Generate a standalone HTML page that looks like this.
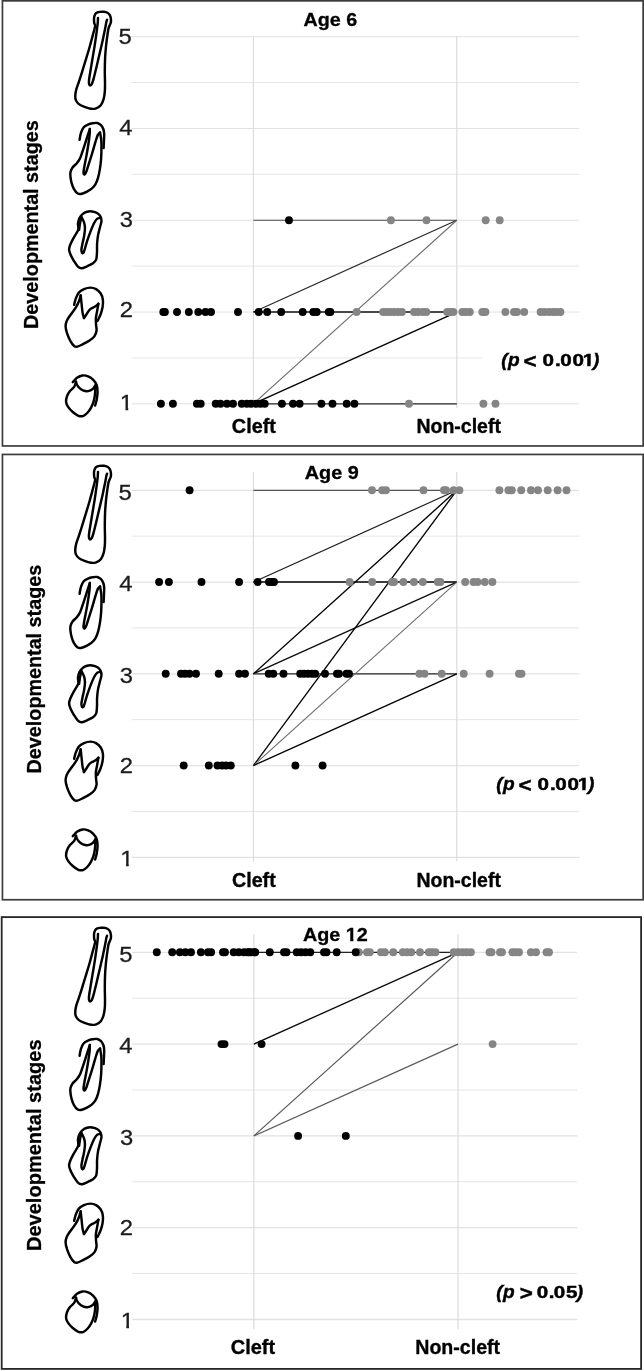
<!DOCTYPE html>
<html lang="en">
<head>
<meta charset="utf-8">
<title>Developmental stages by age: Cleft vs Non-cleft</title>
<style>
html,body{margin:0;padding:0;background:#fff;}
body{width:644px;height:1371px;overflow:hidden;}
svg{display:block;}
</style>
</head>
<body>
<svg width="644" height="1371" viewBox="0 0 644 1371" font-family="'Liberation Sans', Arial, Helvetica, sans-serif">
<rect x="0" y="0" width="644" height="1371" fill="#fff"/>
<defs>
<clipPath id="c1t"><rect x="0" y="-22.9" width="16.03" height="20.84"/><rect x="5.47" y="-4.58" width="2.56" height="6.87"/></clipPath>
</defs>
<g>
<rect x="2.45" y="0.85" width="640.7" height="445.1" fill="#fff" stroke="#3c3c3c" stroke-width="1.7"/>
<path d="M131.6 403.82H579.3M131.6 312.04H579.3M131.6 220.26H579.3M131.6 128.48H579.3M131.6 36.7H579.3" stroke="#e2e2e2" stroke-width="1" fill="none"/>
<path d="M131.6 357.93H579.3M131.6 266.15H579.3M131.6 174.37H579.3M131.6 82.59H579.3" stroke="#e2e2e2" stroke-width="0.9" fill="none"/>
<path d="M253.45 36.1V408.2M456.8 36.1V408.2" stroke="#dbdbdb" stroke-width="1.15" fill="none"/>
<rect x="482" y="340" width="110" height="36" fill="#fff"/>
<line x1="253.45" y1="220.26" x2="456.8" y2="220.26" stroke="#4a4a4a" stroke-width="1.1"/>
<line x1="253.45" y1="312.04" x2="456.8" y2="220.26" stroke="#2a2a2a" stroke-width="1.2"/>
<line x1="253.45" y1="312.04" x2="456.8" y2="312.04" stroke="#111" stroke-width="1.4"/>
<line x1="253.45" y1="403.82" x2="456.8" y2="220.26" stroke="#6e6e6e" stroke-width="1.15"/>
<line x1="253.45" y1="403.82" x2="456.8" y2="312.04" stroke="#000" stroke-width="1.35"/>
<line x1="253.45" y1="403.82" x2="456.8" y2="403.82" stroke="#262626" stroke-width="1.25"/>
<g fill="#858585"><circle cx="390.9" cy="220.26" r="3.95"/><circle cx="426.5" cy="220.26" r="3.95"/><circle cx="485.7" cy="220.26" r="3.95"/><circle cx="499.7" cy="220.26" r="3.95"/><circle cx="356.6" cy="312.04" r="3.95"/><circle cx="383.2" cy="312.04" r="3.95"/><circle cx="386.5" cy="312.04" r="3.95"/><circle cx="390" cy="312.04" r="3.95"/><circle cx="394" cy="312.04" r="3.95"/><circle cx="398" cy="312.04" r="3.95"/><circle cx="401.9" cy="312.04" r="3.95"/><circle cx="414" cy="312.04" r="3.95"/><circle cx="418" cy="312.04" r="3.95"/><circle cx="422.5" cy="312.04" r="3.95"/><circle cx="426.3" cy="312.04" r="3.95"/><circle cx="447.2" cy="312.04" r="3.95"/><circle cx="450" cy="312.04" r="3.95"/><circle cx="453.3" cy="312.04" r="3.95"/><circle cx="462.4" cy="312.04" r="3.95"/><circle cx="466" cy="312.04" r="3.95"/><circle cx="469.8" cy="312.04" r="3.95"/><circle cx="482.4" cy="312.04" r="3.95"/><circle cx="485.4" cy="312.04" r="3.95"/><circle cx="505.4" cy="312.04" r="3.95"/><circle cx="514" cy="312.04" r="3.95"/><circle cx="517" cy="312.04" r="3.95"/><circle cx="524.2" cy="312.04" r="3.95"/><circle cx="540.6" cy="312.04" r="3.95"/><circle cx="544.5" cy="312.04" r="3.95"/><circle cx="549" cy="312.04" r="3.95"/><circle cx="553" cy="312.04" r="3.95"/><circle cx="556.5" cy="312.04" r="3.95"/><circle cx="560.4" cy="312.04" r="3.95"/><circle cx="409" cy="403.82" r="3.95"/><circle cx="483.4" cy="403.82" r="3.95"/><circle cx="495.5" cy="403.82" r="3.95"/></g>
<g fill="#000"><circle cx="289" cy="220.26" r="3.95"/><circle cx="163.3" cy="312.04" r="3.95"/><circle cx="164.9" cy="312.04" r="3.95"/><circle cx="177" cy="312.04" r="3.95"/><circle cx="188.8" cy="312.04" r="3.95"/><circle cx="198.3" cy="312.04" r="3.95"/><circle cx="205.5" cy="312.04" r="3.95"/><circle cx="211" cy="312.04" r="3.95"/><circle cx="238" cy="312.04" r="3.95"/><circle cx="258.7" cy="312.04" r="3.95"/><circle cx="267.2" cy="312.04" r="3.95"/><circle cx="281.2" cy="312.04" r="3.95"/><circle cx="302.7" cy="312.04" r="3.95"/><circle cx="313.3" cy="312.04" r="3.95"/><circle cx="316.7" cy="312.04" r="3.95"/><circle cx="328.8" cy="312.04" r="3.95"/><circle cx="330.3" cy="312.04" r="3.95"/><circle cx="160.9" cy="403.82" r="3.95"/><circle cx="172.9" cy="403.82" r="3.95"/><circle cx="196.9" cy="403.82" r="3.95"/><circle cx="200.7" cy="403.82" r="3.95"/><circle cx="215.7" cy="403.82" r="3.95"/><circle cx="220.5" cy="403.82" r="3.95"/><circle cx="227" cy="403.82" r="3.95"/><circle cx="233" cy="403.82" r="3.95"/><circle cx="241.7" cy="403.82" r="3.95"/><circle cx="246.7" cy="403.82" r="3.95"/><circle cx="251" cy="403.82" r="3.95"/><circle cx="256" cy="403.82" r="3.95"/><circle cx="260.4" cy="403.82" r="3.95"/><circle cx="264.7" cy="403.82" r="3.95"/><circle cx="281.9" cy="403.82" r="3.95"/><circle cx="293" cy="403.82" r="3.95"/><circle cx="299.6" cy="403.82" r="3.95"/><circle cx="321.4" cy="403.82" r="3.95"/><circle cx="332.5" cy="403.82" r="3.95"/><circle cx="346.7" cy="403.82" r="3.95"/><circle cx="354.4" cy="403.82" r="3.95"/></g>
<g transform="translate(0 0)" fill="none" stroke="#000" stroke-width="2.45" stroke-linecap="round" stroke-linejoin="round"><path d="M94.47 15.78C94.79 14.8 95.13 13.83 95.96 13.17C96.78 12.52 98.08 12.1 99.4 11.87C100.72 11.64 102.54 11.64 103.88 11.78C105.21 11.92 106.42 12.15 107.42 12.71C108.41 13.27 109.27 14.15 109.84 15.13C110.41 16.11 110.69 17.38 110.86 18.58C111.04 19.77 111.05 21.19 110.86 22.3C110.68 23.42 110.13 24.28 109.75 25.29C109.36 26.3 108.94 26.61 108.54 28.36C108.13 30.12 107.74 32.86 107.32 35.81C106.91 38.76 106.39 42.34 106.02 46.06C105.65 49.79 105.29 53.98 105.09 58.18C104.89 62.37 104.82 67.03 104.81 71.22C104.79 75.41 105 79.92 105 83.33C105 86.75 105.04 89.08 104.81 91.72C104.58 94.36 104.27 96.92 103.6 99.17C102.93 101.42 102.04 103.7 100.8 105.23C99.56 106.75 97.77 107.71 96.14 108.3C94.51 108.89 92.96 109 91.02 108.77C89.08 108.53 86.52 107.68 84.5 106.9C82.48 106.13 80.34 105.2 78.91 104.11C77.48 103.02 76.53 101.75 75.93 100.38C75.32 99.02 75.21 97.74 75.27 95.91C75.34 94.08 75.72 91.64 76.3 89.39C76.87 87.14 77.82 85.12 78.72 82.4C79.62 79.68 80.58 76.65 81.7 73.08C82.82 69.51 84.11 65.32 85.43 60.97C86.75 56.62 88.38 51.34 89.62 47C90.86 42.65 91.97 38.38 92.88 34.88C93.8 31.39 94.89 27.97 95.12 26.03C95.35 24.09 94.47 24.4 94.28 23.24C94.09 22.07 93.97 20.29 94 19.04C94.03 17.8 94.14 16.76 94.47 15.78Z"/><path d="M98.01 17.93C97.96 18.73 97.96 20.41 97.73 22.77C97.49 25.13 97.11 28.36 96.61 32.09C96.11 35.81 95.45 40.63 94.75 45.13C94.05 49.63 93.19 54.45 92.42 59.11C91.64 63.77 90.66 69.51 90.09 73.08C89.51 76.65 89.13 78.67 88.97 80.54C88.81 82.4 88.89 83.46 89.16 84.26C89.42 85.07 90.09 85.46 90.55 85.38C91.02 85.3 91.44 84.92 91.95 83.8C92.46 82.68 92.93 81.24 93.63 78.67C94.33 76.11 95.18 72.46 96.14 68.42C97.11 64.39 98.32 59.11 99.4 54.45C100.49 49.79 101.73 44.67 102.67 40.47C103.6 36.28 104.37 32.4 105 29.29C105.62 26.19 106.05 23.42 106.39 21.84C106.73 20.26 106.94 20.13 107.04 19.79"/><path d="M79.57 139.76C79.8 138.59 80.26 134.87 80.96 132.77C81.66 130.67 82.59 128.55 83.76 127.18C84.92 125.81 86.48 125.22 87.95 124.57C89.43 123.92 91.06 123.53 92.61 123.27C94.16 123 95.87 122.68 97.27 122.99C98.67 123.3 99.99 124.12 101 125.13C102 126.14 102.8 127.62 103.32 129.04C103.85 130.47 104.05 131.84 104.16 133.7C104.27 135.57 104.07 137.82 103.98 140.22C103.88 142.63 103.67 146.82 103.6 148.14"/><path d="M89.81 129.04C89.43 130.21 88.34 133.39 87.49 136.03C86.63 138.67 85.62 142.01 84.69 144.88C83.76 147.76 82.72 150.94 81.9 153.27C81.07 155.6 80.61 157.18 79.75 158.86C78.9 160.54 77.97 161.9 76.77 163.33C75.58 164.76 73.62 166 72.58 167.43C71.54 168.86 70.89 170.38 70.53 171.9C70.17 173.42 70.25 174.7 70.44 176.56C70.62 178.42 71.06 180.99 71.65 183.08C72.24 185.18 72.97 187.4 73.98 189.14C74.98 190.88 76.38 192.74 77.7 193.52C79.02 194.29 80.34 194.11 81.9 193.8C83.45 193.49 85.39 192.51 87.02 191.65C88.65 190.8 90.28 189.87 91.68 188.67C93.08 187.48 94.35 186.27 95.4 184.48C96.46 182.69 97.27 180.52 98.01 177.96C98.76 175.4 99.36 172.29 99.88 169.11C100.39 165.92 100.82 162.27 101.09 158.86C101.35 155.44 101.43 151.72 101.46 148.61C101.49 145.5 101.51 142.9 101.27 140.22C101.04 137.55 100.27 133.86 100.06 132.58"/><path d="M100.06 132.58C99.68 133 98.51 133.52 97.73 135.1C96.96 136.68 96.34 139.06 95.4 142.09C94.47 145.12 93.23 149.7 92.14 153.27C91.06 156.84 89.81 160.57 88.88 163.52C87.95 166.47 87.25 169.14 86.55 170.97C85.85 172.8 85.2 174.2 84.69 174.51C84.18 174.82 83.53 174.2 83.48 172.83C83.43 171.47 83.9 169.26 84.41 166.31C84.92 163.36 85.89 158.86 86.55 155.13C87.22 151.4 87.9 147.37 88.42 143.95C88.93 140.53 89.4 137.12 89.63 134.63C89.86 132.15 89.78 129.98 89.81 129.04"/><path d="M78.17 229.81C77.5 232.11 75.33 234.71 73.98 237.27C72.62 239.83 70.87 243.09 70.06 245.19C69.25 247.28 69.02 248.22 69.13 249.85C69.24 251.48 69.91 253.11 70.71 254.97C71.52 256.83 72.81 259.13 73.98 261.03C75.14 262.92 76.46 265.14 77.7 266.34C78.94 267.53 79.88 268.2 81.43 268.2C82.98 268.2 85.16 267.11 87.02 266.34C88.88 265.56 91.09 264.66 92.61 263.54C94.13 262.42 95.42 261.52 96.15 259.63C96.88 257.73 96.83 254.82 96.99 252.18C97.14 249.54 96.91 246.59 97.08 243.79C97.25 241 97.52 238.2 98.01 235.4C98.51 232.61 99.49 229.38 100.06 227.02C100.64 224.66 101.37 222.95 101.46 221.24C101.55 219.53 101.29 218.11 100.62 216.77C99.95 215.44 98.87 214.12 97.45 213.23C96.04 212.35 93.88 211.71 92.14 211.46C90.4 211.21 88.62 211.3 87.02 211.74C85.42 212.17 83.81 213.01 82.55 214.07C81.29 215.12 80.23 216.51 79.47 218.08C78.71 219.64 78.2 221.52 77.98 223.48C77.76 225.44 78.84 227.52 78.17 229.81Z"/><path d="M81.43 217.24C81.2 218.25 80.42 221.2 80.03 223.29C79.64 225.39 79.26 228.73 79.1 229.81"/><path d="M81.62 217.24C82.02 218.09 83.48 220.58 84.04 222.36C84.6 224.15 84.94 225.78 84.97 227.95C85 230.13 84.61 232.92 84.22 235.4C83.84 237.89 83.11 240.53 82.64 242.86C82.17 245.19 81.55 247.75 81.43 249.38C81.31 251.01 81.58 252.05 81.9 252.64C82.21 253.23 82.83 253.46 83.29 252.92C83.76 252.38 84.07 251.29 84.69 249.38C85.31 247.47 86.09 244.33 87.02 241.46C87.95 238.59 89.12 235.17 90.28 232.14C91.45 229.12 92.84 225.54 94.01 223.29C95.17 221.04 96.18 219.49 97.27 218.63C98.36 217.78 99.99 218.25 100.53 218.17"/><path d="M74.17 304.69C74.43 303.68 74.98 300.65 75.75 298.63C76.53 296.62 77.46 294.16 78.83 292.58C80.19 290.99 82.01 289.95 83.95 289.13C85.89 288.31 88.45 287.64 90.47 287.64C92.49 287.64 94.36 288.15 96.06 289.13C97.77 290.11 99.59 291.77 100.72 293.51C101.86 295.25 102.55 297.31 102.86 299.57C103.18 301.82 102.97 304.53 102.59 307.02C102.2 309.5 101.39 312.14 100.54 314.47C99.68 316.8 97.97 319.91 97.46 321"/><path d="M80.69 295.37C80.38 296.38 79.68 299.33 78.83 301.43C77.97 303.53 76.96 305.7 75.57 307.95C74.17 310.2 71.92 312.76 70.44 314.94C68.97 317.11 67.52 319.05 66.71 321C65.91 322.94 65.52 324.49 65.6 326.59C65.67 328.68 66.37 331.17 67.18 333.57C67.99 335.98 69.28 338.96 70.44 341.03C71.61 343.09 73 345.03 74.17 345.96C75.33 346.9 75.95 346.93 77.43 346.62C78.9 346.31 81 345.11 83.02 344.1C85.04 343.09 87.65 341.85 89.54 340.56C91.44 339.27 93.22 338 94.39 336.37C95.55 334.74 96.25 332.72 96.53 330.78C96.81 328.84 96.17 326.82 96.06 324.72C95.95 322.63 95.69 320.53 95.88 318.2C96.06 315.87 96.76 313.15 97.18 310.75C97.6 308.34 98.19 304.92 98.39 303.76"/><path d="M98.39 303.76C97.85 304.22 96.53 305.62 95.13 306.55C93.73 307.49 91.4 308.11 90.01 309.35C88.61 310.59 87.76 312.56 86.75 314.01C85.74 315.45 84.42 317.35 83.95 318.01"/><path d="M83.95 318.01C83.72 317.11 82.94 314.91 82.55 312.61C82.17 310.31 81.93 307.1 81.62 304.22C81.31 301.35 80.85 296.85 80.69 295.37"/><path d="M72.77 382.24C73.47 381.51 75.33 378.99 76.96 377.86C78.59 376.72 80.69 375.68 82.55 375.44C84.42 375.19 86.36 375.62 88.14 376.37C89.93 377.11 91.86 378.46 93.27 379.91C94.68 381.35 95.91 383.01 96.62 385.03C97.34 387.05 97.54 389.61 97.55 392.02C97.57 394.43 97.12 397.22 96.72 399.47C96.31 401.72 95.4 404.52 95.13 405.53"/><path d="M76.03 381.77C75.72 382.62 75.18 385.34 74.17 386.9C73.16 388.45 71.17 389.53 69.98 391.09C68.78 392.64 67.65 394.43 66.99 396.21C66.34 398 65.88 400.02 66.06 401.8C66.25 403.59 66.99 405.22 68.11 406.93C69.23 408.63 71.06 410.58 72.77 412.05C74.48 413.53 76.65 415.11 78.36 415.78C80.07 416.45 81.54 416.52 83.02 416.06C84.49 415.59 85.89 414.35 87.21 412.98C88.53 411.62 89.87 409.8 90.94 407.86C92.01 405.92 92.96 403.67 93.64 401.34C94.32 399.01 94.76 396.52 95.04 393.88C95.32 391.24 95.27 386.9 95.32 385.5"/><path d="M95.32 385.5C94.9 386.09 94 388.11 92.8 389.04C91.61 389.97 89.77 390.87 88.14 391.09C86.51 391.31 84.57 390.96 83.02 390.34C81.47 389.72 79.88 388.4 78.83 387.36C77.77 386.32 77.15 385.03 76.68 384.1C76.22 383.17 76.14 382.16 76.03 381.77"/></g>
<g transform="translate(119.85 409.9) scale(1.04 1)" clip-path="url(#c1t)"><text font-size="22.9" fill="#1c1c1c" stroke="#1c1c1c" stroke-width="0.3">1</text></g>
<text transform="translate(133.06 316.95) scale(1.04 1)" font-size="22.9" text-anchor="end" fill="#1c1c1c" stroke="#1c1c1c" stroke-width="0.3">2</text>
<text transform="translate(132.95 226.8) scale(1.04 1)" font-size="22.9" text-anchor="end" fill="#1c1c1c" stroke="#1c1c1c" stroke-width="0.3">3</text>
<text transform="translate(132.39 134.8) scale(1.04 1)" font-size="22.9" text-anchor="end" fill="#1c1c1c" stroke="#1c1c1c" stroke-width="0.3">4</text>
<text transform="translate(131.63 44) scale(1.04 1)" font-size="22.9" text-anchor="end" fill="#1c1c1c" stroke="#1c1c1c" stroke-width="0.3">5</text>
<text x="303.5" y="25.65" font-size="19" font-weight="bold" stroke="#000" stroke-width="0.3" textLength="53.7" lengthAdjust="spacingAndGlyphs" fill="#000">Age 6</text>
<text x="231.85" y="433" font-size="19.6" font-weight="bold" stroke="#000" stroke-width="0.35" textLength="44" lengthAdjust="spacingAndGlyphs" fill="#000">Cleft</text>
<text x="416.45" y="433" font-size="19.6" font-weight="bold" stroke="#000" stroke-width="0.35" textLength="84.5" lengthAdjust="spacingAndGlyphs" fill="#000">Non-cleft</text>
<text transform="translate(37.7 328.9) rotate(-90)" font-size="20.4" font-weight="bold" stroke="#000" stroke-width="0.3" textLength="208.6" lengthAdjust="spacingAndGlyphs" fill="#000">Developmental stages</text>
<text x="501.13 507.88" y="366.4" font-size="19.05" font-weight="bold" font-style="italic" stroke="#000" stroke-width="0.45">(p</text><text transform="translate(523.61 368.27) scale(1.14 1)" font-size="19.6" font-weight="bold" stroke="#000" stroke-width="0.45">&lt;</text><clipPath id="c1p0"><rect x="418.89" y="-19.32" width="37.21" height="25.76"/><rect x="455.21" y="-19.32" width="11.27" height="17.15"/><rect x="458.8" y="-3.22" width="2.57" height="6.44"/></clipPath><g transform="translate(0 366.2) scale(1.28 1)" clip-path="url(#c1p0)"><text x="423.89 433.56 437.79 447.25 455.21" y="0" font-size="16.1" font-weight="bold" stroke="#000" stroke-width="0.45">0.001</text></g><text x="592.89" y="366.4" font-size="19.05" font-weight="bold" font-style="italic" stroke="#000" stroke-width="0.45">)</text>
</g>
<g>
<rect x="2.45" y="454.45" width="640.7" height="445.3" fill="#fff" stroke="#3c3c3c" stroke-width="1.7"/>
<path d="M131.6 857.3H579.3M131.6 765.55H579.3M131.6 673.8H579.3M131.6 582.05H579.3M131.6 490.3H579.3" stroke="#e2e2e2" stroke-width="1.15" fill="none"/>
<path d="M131.6 811.42H579.3M131.6 719.67H579.3M131.6 627.92H579.3M131.6 536.17H579.3" stroke="#e2e2e2" stroke-width="0.9" fill="none"/>
<path d="M253.45 472V861.3M456.8 472V861.3" stroke="#dbdbdb" stroke-width="1.15" fill="none"/>
<line x1="253.45" y1="490.3" x2="456.8" y2="490.3" stroke="#555" stroke-width="1.15"/>
<line x1="253.45" y1="582.05" x2="456.8" y2="490.3" stroke="#1e1e1e" stroke-width="1.2"/>
<line x1="253.45" y1="582.05" x2="456.8" y2="582.05" stroke="#000" stroke-width="1.4"/>
<line x1="253.45" y1="673.8" x2="456.8" y2="490.3" stroke="#000" stroke-width="1.35"/>
<line x1="253.45" y1="673.8" x2="456.8" y2="582.05" stroke="#0c0c0c" stroke-width="1.3"/>
<line x1="253.45" y1="673.8" x2="456.8" y2="673.8" stroke="#262626" stroke-width="1.25"/>
<line x1="253.45" y1="765.55" x2="456.8" y2="490.3" stroke="#000" stroke-width="1.35"/>
<line x1="253.45" y1="765.55" x2="456.8" y2="582.05" stroke="#6e6e6e" stroke-width="1.1"/>
<line x1="253.45" y1="765.55" x2="456.8" y2="673.8" stroke="#000" stroke-width="1.35"/>
<g fill="#858585"><circle cx="372" cy="490.3" r="3.95"/><circle cx="382.2" cy="490.3" r="3.95"/><circle cx="386" cy="490.3" r="3.95"/><circle cx="423.5" cy="490.3" r="3.95"/><circle cx="444" cy="490.3" r="3.95"/><circle cx="446" cy="490.3" r="3.95"/><circle cx="453.6" cy="490.3" r="3.95"/><circle cx="459.4" cy="490.3" r="3.95"/><circle cx="499.4" cy="490.3" r="3.95"/><circle cx="508.4" cy="490.3" r="3.95"/><circle cx="511.8" cy="490.3" r="3.95"/><circle cx="521.2" cy="490.3" r="3.95"/><circle cx="531" cy="490.3" r="3.95"/><circle cx="538" cy="490.3" r="3.95"/><circle cx="547.7" cy="490.3" r="3.95"/><circle cx="557.6" cy="490.3" r="3.95"/><circle cx="566.5" cy="490.3" r="3.95"/><circle cx="349.6" cy="582.05" r="3.95"/><circle cx="372.2" cy="582.05" r="3.95"/><circle cx="392" cy="582.05" r="3.95"/><circle cx="394" cy="582.05" r="3.95"/><circle cx="403.4" cy="582.05" r="3.95"/><circle cx="413.9" cy="582.05" r="3.95"/><circle cx="422.8" cy="582.05" r="3.95"/><circle cx="437.8" cy="582.05" r="3.95"/><circle cx="440.4" cy="582.05" r="3.95"/><circle cx="465.2" cy="582.05" r="3.95"/><circle cx="473.5" cy="582.05" r="3.95"/><circle cx="477.5" cy="582.05" r="3.95"/><circle cx="484.8" cy="582.05" r="3.95"/><circle cx="492.4" cy="582.05" r="3.95"/><circle cx="419.5" cy="673.8" r="3.95"/><circle cx="424.5" cy="673.8" r="3.95"/><circle cx="441.7" cy="673.8" r="3.95"/><circle cx="463.7" cy="673.8" r="3.95"/><circle cx="489.6" cy="673.8" r="3.95"/><circle cx="519" cy="673.8" r="3.95"/><circle cx="521.5" cy="673.8" r="3.95"/></g>
<g fill="#000"><circle cx="189.6" cy="490.3" r="3.95"/><circle cx="159.1" cy="582.05" r="3.95"/><circle cx="168.9" cy="582.05" r="3.95"/><circle cx="201.5" cy="582.05" r="3.95"/><circle cx="239.1" cy="582.05" r="3.95"/><circle cx="257.6" cy="582.05" r="3.95"/><circle cx="269" cy="582.05" r="3.95"/><circle cx="271.5" cy="582.05" r="3.95"/><circle cx="274" cy="582.05" r="3.95"/><circle cx="165.7" cy="673.8" r="3.95"/><circle cx="181" cy="673.8" r="3.95"/><circle cx="185" cy="673.8" r="3.95"/><circle cx="189.5" cy="673.8" r="3.95"/><circle cx="196" cy="673.8" r="3.95"/><circle cx="218.7" cy="673.8" r="3.95"/><circle cx="239.1" cy="673.8" r="3.95"/><circle cx="245" cy="673.8" r="3.95"/><circle cx="268.7" cy="673.8" r="3.95"/><circle cx="273.3" cy="673.8" r="3.95"/><circle cx="283.5" cy="673.8" r="3.95"/><circle cx="300.2" cy="673.8" r="3.95"/><circle cx="304" cy="673.8" r="3.95"/><circle cx="308" cy="673.8" r="3.95"/><circle cx="312" cy="673.8" r="3.95"/><circle cx="315.2" cy="673.8" r="3.95"/><circle cx="325" cy="673.8" r="3.95"/><circle cx="337" cy="673.8" r="3.95"/><circle cx="339" cy="673.8" r="3.95"/><circle cx="346.5" cy="673.8" r="3.95"/><circle cx="349" cy="673.8" r="3.95"/><circle cx="183.7" cy="765.55" r="3.95"/><circle cx="208.8" cy="765.55" r="3.95"/><circle cx="217.5" cy="765.55" r="3.95"/><circle cx="222" cy="765.55" r="3.95"/><circle cx="226" cy="765.55" r="3.95"/><circle cx="230.8" cy="765.55" r="3.95"/><circle cx="295.4" cy="765.55" r="3.95"/><circle cx="322.6" cy="765.55" r="3.95"/></g>
<g transform="translate(0 454)" fill="none" stroke="#000" stroke-width="2.45" stroke-linecap="round" stroke-linejoin="round"><path d="M94.47 15.78C94.79 14.8 95.13 13.83 95.96 13.17C96.78 12.52 98.08 12.1 99.4 11.87C100.72 11.64 102.54 11.64 103.88 11.78C105.21 11.92 106.42 12.15 107.42 12.71C108.41 13.27 109.27 14.15 109.84 15.13C110.41 16.11 110.69 17.38 110.86 18.58C111.04 19.77 111.05 21.19 110.86 22.3C110.68 23.42 110.13 24.28 109.75 25.29C109.36 26.3 108.94 26.61 108.54 28.36C108.13 30.12 107.74 32.86 107.32 35.81C106.91 38.76 106.39 42.34 106.02 46.06C105.65 49.79 105.29 53.98 105.09 58.18C104.89 62.37 104.82 67.03 104.81 71.22C104.79 75.41 105 79.92 105 83.33C105 86.75 105.04 89.08 104.81 91.72C104.58 94.36 104.27 96.92 103.6 99.17C102.93 101.42 102.04 103.7 100.8 105.23C99.56 106.75 97.77 107.71 96.14 108.3C94.51 108.89 92.96 109 91.02 108.77C89.08 108.53 86.52 107.68 84.5 106.9C82.48 106.13 80.34 105.2 78.91 104.11C77.48 103.02 76.53 101.75 75.93 100.38C75.32 99.02 75.21 97.74 75.27 95.91C75.34 94.08 75.72 91.64 76.3 89.39C76.87 87.14 77.82 85.12 78.72 82.4C79.62 79.68 80.58 76.65 81.7 73.08C82.82 69.51 84.11 65.32 85.43 60.97C86.75 56.62 88.38 51.34 89.62 47C90.86 42.65 91.97 38.38 92.88 34.88C93.8 31.39 94.89 27.97 95.12 26.03C95.35 24.09 94.47 24.4 94.28 23.24C94.09 22.07 93.97 20.29 94 19.04C94.03 17.8 94.14 16.76 94.47 15.78Z"/><path d="M98.01 17.93C97.96 18.73 97.96 20.41 97.73 22.77C97.49 25.13 97.11 28.36 96.61 32.09C96.11 35.81 95.45 40.63 94.75 45.13C94.05 49.63 93.19 54.45 92.42 59.11C91.64 63.77 90.66 69.51 90.09 73.08C89.51 76.65 89.13 78.67 88.97 80.54C88.81 82.4 88.89 83.46 89.16 84.26C89.42 85.07 90.09 85.46 90.55 85.38C91.02 85.3 91.44 84.92 91.95 83.8C92.46 82.68 92.93 81.24 93.63 78.67C94.33 76.11 95.18 72.46 96.14 68.42C97.11 64.39 98.32 59.11 99.4 54.45C100.49 49.79 101.73 44.67 102.67 40.47C103.6 36.28 104.37 32.4 105 29.29C105.62 26.19 106.05 23.42 106.39 21.84C106.73 20.26 106.94 20.13 107.04 19.79"/><path d="M79.57 139.76C79.8 138.59 80.26 134.87 80.96 132.77C81.66 130.67 82.59 128.55 83.76 127.18C84.92 125.81 86.48 125.22 87.95 124.57C89.43 123.92 91.06 123.53 92.61 123.27C94.16 123 95.87 122.68 97.27 122.99C98.67 123.3 99.99 124.12 101 125.13C102 126.14 102.8 127.62 103.32 129.04C103.85 130.47 104.05 131.84 104.16 133.7C104.27 135.57 104.07 137.82 103.98 140.22C103.88 142.63 103.67 146.82 103.6 148.14"/><path d="M89.81 129.04C89.43 130.21 88.34 133.39 87.49 136.03C86.63 138.67 85.62 142.01 84.69 144.88C83.76 147.76 82.72 150.94 81.9 153.27C81.07 155.6 80.61 157.18 79.75 158.86C78.9 160.54 77.97 161.9 76.77 163.33C75.58 164.76 73.62 166 72.58 167.43C71.54 168.86 70.89 170.38 70.53 171.9C70.17 173.42 70.25 174.7 70.44 176.56C70.62 178.42 71.06 180.99 71.65 183.08C72.24 185.18 72.97 187.4 73.98 189.14C74.98 190.88 76.38 192.74 77.7 193.52C79.02 194.29 80.34 194.11 81.9 193.8C83.45 193.49 85.39 192.51 87.02 191.65C88.65 190.8 90.28 189.87 91.68 188.67C93.08 187.48 94.35 186.27 95.4 184.48C96.46 182.69 97.27 180.52 98.01 177.96C98.76 175.4 99.36 172.29 99.88 169.11C100.39 165.92 100.82 162.27 101.09 158.86C101.35 155.44 101.43 151.72 101.46 148.61C101.49 145.5 101.51 142.9 101.27 140.22C101.04 137.55 100.27 133.86 100.06 132.58"/><path d="M100.06 132.58C99.68 133 98.51 133.52 97.73 135.1C96.96 136.68 96.34 139.06 95.4 142.09C94.47 145.12 93.23 149.7 92.14 153.27C91.06 156.84 89.81 160.57 88.88 163.52C87.95 166.47 87.25 169.14 86.55 170.97C85.85 172.8 85.2 174.2 84.69 174.51C84.18 174.82 83.53 174.2 83.48 172.83C83.43 171.47 83.9 169.26 84.41 166.31C84.92 163.36 85.89 158.86 86.55 155.13C87.22 151.4 87.9 147.37 88.42 143.95C88.93 140.53 89.4 137.12 89.63 134.63C89.86 132.15 89.78 129.98 89.81 129.04"/><path d="M78.17 229.81C77.5 232.11 75.33 234.71 73.98 237.27C72.62 239.83 70.87 243.09 70.06 245.19C69.25 247.28 69.02 248.22 69.13 249.85C69.24 251.48 69.91 253.11 70.71 254.97C71.52 256.83 72.81 259.13 73.98 261.03C75.14 262.92 76.46 265.14 77.7 266.34C78.94 267.53 79.88 268.2 81.43 268.2C82.98 268.2 85.16 267.11 87.02 266.34C88.88 265.56 91.09 264.66 92.61 263.54C94.13 262.42 95.42 261.52 96.15 259.63C96.88 257.73 96.83 254.82 96.99 252.18C97.14 249.54 96.91 246.59 97.08 243.79C97.25 241 97.52 238.2 98.01 235.4C98.51 232.61 99.49 229.38 100.06 227.02C100.64 224.66 101.37 222.95 101.46 221.24C101.55 219.53 101.29 218.11 100.62 216.77C99.95 215.44 98.87 214.12 97.45 213.23C96.04 212.35 93.88 211.71 92.14 211.46C90.4 211.21 88.62 211.3 87.02 211.74C85.42 212.17 83.81 213.01 82.55 214.07C81.29 215.12 80.23 216.51 79.47 218.08C78.71 219.64 78.2 221.52 77.98 223.48C77.76 225.44 78.84 227.52 78.17 229.81Z"/><path d="M81.43 217.24C81.2 218.25 80.42 221.2 80.03 223.29C79.64 225.39 79.26 228.73 79.1 229.81"/><path d="M81.62 217.24C82.02 218.09 83.48 220.58 84.04 222.36C84.6 224.15 84.94 225.78 84.97 227.95C85 230.13 84.61 232.92 84.22 235.4C83.84 237.89 83.11 240.53 82.64 242.86C82.17 245.19 81.55 247.75 81.43 249.38C81.31 251.01 81.58 252.05 81.9 252.64C82.21 253.23 82.83 253.46 83.29 252.92C83.76 252.38 84.07 251.29 84.69 249.38C85.31 247.47 86.09 244.33 87.02 241.46C87.95 238.59 89.12 235.17 90.28 232.14C91.45 229.12 92.84 225.54 94.01 223.29C95.17 221.04 96.18 219.49 97.27 218.63C98.36 217.78 99.99 218.25 100.53 218.17"/><path d="M74.17 304.69C74.43 303.68 74.98 300.65 75.75 298.63C76.53 296.62 77.46 294.16 78.83 292.58C80.19 290.99 82.01 289.95 83.95 289.13C85.89 288.31 88.45 287.64 90.47 287.64C92.49 287.64 94.36 288.15 96.06 289.13C97.77 290.11 99.59 291.77 100.72 293.51C101.86 295.25 102.55 297.31 102.86 299.57C103.18 301.82 102.97 304.53 102.59 307.02C102.2 309.5 101.39 312.14 100.54 314.47C99.68 316.8 97.97 319.91 97.46 321"/><path d="M80.69 295.37C80.38 296.38 79.68 299.33 78.83 301.43C77.97 303.53 76.96 305.7 75.57 307.95C74.17 310.2 71.92 312.76 70.44 314.94C68.97 317.11 67.52 319.05 66.71 321C65.91 322.94 65.52 324.49 65.6 326.59C65.67 328.68 66.37 331.17 67.18 333.57C67.99 335.98 69.28 338.96 70.44 341.03C71.61 343.09 73 345.03 74.17 345.96C75.33 346.9 75.95 346.93 77.43 346.62C78.9 346.31 81 345.11 83.02 344.1C85.04 343.09 87.65 341.85 89.54 340.56C91.44 339.27 93.22 338 94.39 336.37C95.55 334.74 96.25 332.72 96.53 330.78C96.81 328.84 96.17 326.82 96.06 324.72C95.95 322.63 95.69 320.53 95.88 318.2C96.06 315.87 96.76 313.15 97.18 310.75C97.6 308.34 98.19 304.92 98.39 303.76"/><path d="M98.39 303.76C97.85 304.22 96.53 305.62 95.13 306.55C93.73 307.49 91.4 308.11 90.01 309.35C88.61 310.59 87.76 312.56 86.75 314.01C85.74 315.45 84.42 317.35 83.95 318.01"/><path d="M83.95 318.01C83.72 317.11 82.94 314.91 82.55 312.61C82.17 310.31 81.93 307.1 81.62 304.22C81.31 301.35 80.85 296.85 80.69 295.37"/><path d="M72.77 382.24C73.47 381.51 75.33 378.99 76.96 377.86C78.59 376.72 80.69 375.68 82.55 375.44C84.42 375.19 86.36 375.62 88.14 376.37C89.93 377.11 91.86 378.46 93.27 379.91C94.68 381.35 95.91 383.01 96.62 385.03C97.34 387.05 97.54 389.61 97.55 392.02C97.57 394.43 97.12 397.22 96.72 399.47C96.31 401.72 95.4 404.52 95.13 405.53"/><path d="M76.03 381.77C75.72 382.62 75.18 385.34 74.17 386.9C73.16 388.45 71.17 389.53 69.98 391.09C68.78 392.64 67.65 394.43 66.99 396.21C66.34 398 65.88 400.02 66.06 401.8C66.25 403.59 66.99 405.22 68.11 406.93C69.23 408.63 71.06 410.58 72.77 412.05C74.48 413.53 76.65 415.11 78.36 415.78C80.07 416.45 81.54 416.52 83.02 416.06C84.49 415.59 85.89 414.35 87.21 412.98C88.53 411.62 89.87 409.8 90.94 407.86C92.01 405.92 92.96 403.67 93.64 401.34C94.32 399.01 94.76 396.52 95.04 393.88C95.32 391.24 95.27 386.9 95.32 385.5"/><path d="M95.32 385.5C94.9 386.09 94 388.11 92.8 389.04C91.61 389.97 89.77 390.87 88.14 391.09C86.51 391.31 84.57 390.96 83.02 390.34C81.47 389.72 79.88 388.4 78.83 387.36C77.77 386.32 77.15 385.03 76.68 384.1C76.22 383.17 76.14 382.16 76.03 381.77"/></g>
<g transform="translate(120.35 865.85) scale(1.04 1)" clip-path="url(#c1t)"><text font-size="22.9" fill="#1c1c1c" stroke="#1c1c1c" stroke-width="0.3">1</text></g>
<text transform="translate(133.06 773.05) scale(1.04 1)" font-size="22.9" text-anchor="end" fill="#1c1c1c" stroke="#1c1c1c" stroke-width="0.3">2</text>
<text transform="translate(132.95 682.65) scale(1.04 1)" font-size="22.9" text-anchor="end" fill="#1c1c1c" stroke="#1c1c1c" stroke-width="0.3">3</text>
<text transform="translate(132.39 590.6) scale(1.04 1)" font-size="22.9" text-anchor="end" fill="#1c1c1c" stroke="#1c1c1c" stroke-width="0.3">4</text>
<text transform="translate(131.83 499.6) scale(1.04 1)" font-size="22.9" text-anchor="end" fill="#1c1c1c" stroke="#1c1c1c" stroke-width="0.3">5</text>
<text x="304.8" y="478.65" font-size="19" font-weight="bold" stroke="#000" stroke-width="0.3" textLength="54" lengthAdjust="spacingAndGlyphs" fill="#000">Age 9</text>
<text x="231.95" y="886.5" font-size="19.6" font-weight="bold" stroke="#000" stroke-width="0.35" textLength="43.8" lengthAdjust="spacingAndGlyphs" fill="#000">Cleft</text>
<text x="416.45" y="886.5" font-size="19.6" font-weight="bold" stroke="#000" stroke-width="0.35" textLength="84.5" lengthAdjust="spacingAndGlyphs" fill="#000">Non-cleft</text>
<text transform="translate(41.4 773.4) rotate(-90)" font-size="20.4" font-weight="bold" stroke="#000" stroke-width="0.3" textLength="208.6" lengthAdjust="spacingAndGlyphs" fill="#000">Developmental stages</text>
<text x="496.13 502.88" y="790.1" font-size="19.05" font-weight="bold" font-style="italic" stroke="#000" stroke-width="0.45">(p</text><text transform="translate(518.61 791.97) scale(1.14 1)" font-size="19.6" font-weight="bold" stroke="#000" stroke-width="0.45">&lt;</text><clipPath id="c1p423"><rect x="414.98" y="-19.32" width="37.21" height="25.76"/><rect x="451.31" y="-19.32" width="11.27" height="17.15"/><rect x="454.89" y="-3.22" width="2.57" height="6.44"/></clipPath><g transform="translate(0 789.9) scale(1.28 1)" clip-path="url(#c1p423)"><text x="419.98 429.65 433.89 443.34 451.31" y="0" font-size="16.1" font-weight="bold" stroke="#000" stroke-width="0.45">0.001</text></g><text x="587.89" y="790.1" font-size="19.05" font-weight="bold" font-style="italic" stroke="#000" stroke-width="0.45">)</text>
</g>
<g>
<rect x="1.7" y="917.1" width="639.4" height="451.8" fill="#fff" stroke="#262626" stroke-width="1.8"/>
<path d="M132.3 1319.5H577.3M132.3 1227.7H577.3M132.3 1135.9H577.3M132.3 1044.1H577.3M132.3 952.3H577.3" stroke="#e2e2e2" stroke-width="1.3" fill="none"/>
<path d="M132.3 1273.6H577.3M132.3 1181.8H577.3M132.3 1090H577.3M132.3 998.2H577.3" stroke="#e2e2e2" stroke-width="0.9" fill="none"/>
<path d="M253.9 933.9V1329.3M458 933.9V1329.3" stroke="#dbdbdb" stroke-width="1.15" fill="none"/>
<line x1="253.9" y1="952.3" x2="458" y2="952.3" stroke="#222" stroke-width="1.25"/>
<line x1="253.9" y1="1044.1" x2="458" y2="952.3" stroke="#0a0a0a" stroke-width="1.35"/>
<line x1="253.9" y1="1135.9" x2="458" y2="952.3" stroke="#5a5a5a" stroke-width="1.2"/>
<line x1="253.9" y1="1135.9" x2="458" y2="1044.1" stroke="#5a5a5a" stroke-width="1.2"/>
<g fill="#858585"><circle cx="358.8" cy="952.3" r="3.95"/><circle cx="367" cy="952.3" r="3.95"/><circle cx="369.8" cy="952.3" r="3.95"/><circle cx="381" cy="952.3" r="3.95"/><circle cx="384.8" cy="952.3" r="3.95"/><circle cx="393.3" cy="952.3" r="3.95"/><circle cx="402.8" cy="952.3" r="3.95"/><circle cx="407" cy="952.3" r="3.95"/><circle cx="411.3" cy="952.3" r="3.95"/><circle cx="420" cy="952.3" r="3.95"/><circle cx="428.8" cy="952.3" r="3.95"/><circle cx="432" cy="952.3" r="3.95"/><circle cx="435.5" cy="952.3" r="3.95"/><circle cx="453.7" cy="952.3" r="3.95"/><circle cx="458" cy="952.3" r="3.95"/><circle cx="462.5" cy="952.3" r="3.95"/><circle cx="466.5" cy="952.3" r="3.95"/><circle cx="470.9" cy="952.3" r="3.95"/><circle cx="489.5" cy="952.3" r="3.95"/><circle cx="491.5" cy="952.3" r="3.95"/><circle cx="500" cy="952.3" r="3.95"/><circle cx="502" cy="952.3" r="3.95"/><circle cx="512.4" cy="952.3" r="3.95"/><circle cx="515.5" cy="952.3" r="3.95"/><circle cx="519" cy="952.3" r="3.95"/><circle cx="530.9" cy="952.3" r="3.95"/><circle cx="536" cy="952.3" r="3.95"/><circle cx="546.5" cy="952.3" r="3.95"/><circle cx="549" cy="952.3" r="3.95"/><circle cx="492.6" cy="1044.1" r="3.95"/></g>
<g fill="#000"><circle cx="156.8" cy="952.3" r="3.95"/><circle cx="172.2" cy="952.3" r="3.95"/><circle cx="179.9" cy="952.3" r="3.95"/><circle cx="185.4" cy="952.3" r="3.95"/><circle cx="191" cy="952.3" r="3.95"/><circle cx="200.9" cy="952.3" r="3.95"/><circle cx="208" cy="952.3" r="3.95"/><circle cx="211.1" cy="952.3" r="3.95"/><circle cx="223" cy="952.3" r="3.95"/><circle cx="225" cy="952.3" r="3.95"/><circle cx="233.7" cy="952.3" r="3.95"/><circle cx="238.8" cy="952.3" r="3.95"/><circle cx="243.9" cy="952.3" r="3.95"/><circle cx="249" cy="952.3" r="3.95"/><circle cx="254.2" cy="952.3" r="3.95"/><circle cx="247.6" cy="952.3" r="3.95"/><circle cx="251" cy="952.3" r="3.95"/><circle cx="255.2" cy="952.3" r="3.95"/><circle cx="269.8" cy="952.3" r="3.95"/><circle cx="284" cy="952.3" r="3.95"/><circle cx="286.5" cy="952.3" r="3.95"/><circle cx="296.7" cy="952.3" r="3.95"/><circle cx="301" cy="952.3" r="3.95"/><circle cx="305.5" cy="952.3" r="3.95"/><circle cx="310.3" cy="952.3" r="3.95"/><circle cx="324" cy="952.3" r="3.95"/><circle cx="326.5" cy="952.3" r="3.95"/><circle cx="336.7" cy="952.3" r="3.95"/><circle cx="355.7" cy="952.3" r="3.95"/><circle cx="221.5" cy="1044.1" r="3.95"/><circle cx="224.5" cy="1044.1" r="3.95"/><circle cx="261.6" cy="1044.1" r="3.95"/><circle cx="298.1" cy="1135.9" r="3.95"/><circle cx="345.8" cy="1135.9" r="3.95"/></g>
<g transform="translate(0 916)" fill="none" stroke="#000" stroke-width="2.45" stroke-linecap="round" stroke-linejoin="round"><path d="M94.47 15.78C94.79 14.8 95.13 13.83 95.96 13.17C96.78 12.52 98.08 12.1 99.4 11.87C100.72 11.64 102.54 11.64 103.88 11.78C105.21 11.92 106.42 12.15 107.42 12.71C108.41 13.27 109.27 14.15 109.84 15.13C110.41 16.11 110.69 17.38 110.86 18.58C111.04 19.77 111.05 21.19 110.86 22.3C110.68 23.42 110.13 24.28 109.75 25.29C109.36 26.3 108.94 26.61 108.54 28.36C108.13 30.12 107.74 32.86 107.32 35.81C106.91 38.76 106.39 42.34 106.02 46.06C105.65 49.79 105.29 53.98 105.09 58.18C104.89 62.37 104.82 67.03 104.81 71.22C104.79 75.41 105 79.92 105 83.33C105 86.75 105.04 89.08 104.81 91.72C104.58 94.36 104.27 96.92 103.6 99.17C102.93 101.42 102.04 103.7 100.8 105.23C99.56 106.75 97.77 107.71 96.14 108.3C94.51 108.89 92.96 109 91.02 108.77C89.08 108.53 86.52 107.68 84.5 106.9C82.48 106.13 80.34 105.2 78.91 104.11C77.48 103.02 76.53 101.75 75.93 100.38C75.32 99.02 75.21 97.74 75.27 95.91C75.34 94.08 75.72 91.64 76.3 89.39C76.87 87.14 77.82 85.12 78.72 82.4C79.62 79.68 80.58 76.65 81.7 73.08C82.82 69.51 84.11 65.32 85.43 60.97C86.75 56.62 88.38 51.34 89.62 47C90.86 42.65 91.97 38.38 92.88 34.88C93.8 31.39 94.89 27.97 95.12 26.03C95.35 24.09 94.47 24.4 94.28 23.24C94.09 22.07 93.97 20.29 94 19.04C94.03 17.8 94.14 16.76 94.47 15.78Z"/><path d="M98.01 17.93C97.96 18.73 97.96 20.41 97.73 22.77C97.49 25.13 97.11 28.36 96.61 32.09C96.11 35.81 95.45 40.63 94.75 45.13C94.05 49.63 93.19 54.45 92.42 59.11C91.64 63.77 90.66 69.51 90.09 73.08C89.51 76.65 89.13 78.67 88.97 80.54C88.81 82.4 88.89 83.46 89.16 84.26C89.42 85.07 90.09 85.46 90.55 85.38C91.02 85.3 91.44 84.92 91.95 83.8C92.46 82.68 92.93 81.24 93.63 78.67C94.33 76.11 95.18 72.46 96.14 68.42C97.11 64.39 98.32 59.11 99.4 54.45C100.49 49.79 101.73 44.67 102.67 40.47C103.6 36.28 104.37 32.4 105 29.29C105.62 26.19 106.05 23.42 106.39 21.84C106.73 20.26 106.94 20.13 107.04 19.79"/><path d="M79.57 139.76C79.8 138.59 80.26 134.87 80.96 132.77C81.66 130.67 82.59 128.55 83.76 127.18C84.92 125.81 86.48 125.22 87.95 124.57C89.43 123.92 91.06 123.53 92.61 123.27C94.16 123 95.87 122.68 97.27 122.99C98.67 123.3 99.99 124.12 101 125.13C102 126.14 102.8 127.62 103.32 129.04C103.85 130.47 104.05 131.84 104.16 133.7C104.27 135.57 104.07 137.82 103.98 140.22C103.88 142.63 103.67 146.82 103.6 148.14"/><path d="M89.81 129.04C89.43 130.21 88.34 133.39 87.49 136.03C86.63 138.67 85.62 142.01 84.69 144.88C83.76 147.76 82.72 150.94 81.9 153.27C81.07 155.6 80.61 157.18 79.75 158.86C78.9 160.54 77.97 161.9 76.77 163.33C75.58 164.76 73.62 166 72.58 167.43C71.54 168.86 70.89 170.38 70.53 171.9C70.17 173.42 70.25 174.7 70.44 176.56C70.62 178.42 71.06 180.99 71.65 183.08C72.24 185.18 72.97 187.4 73.98 189.14C74.98 190.88 76.38 192.74 77.7 193.52C79.02 194.29 80.34 194.11 81.9 193.8C83.45 193.49 85.39 192.51 87.02 191.65C88.65 190.8 90.28 189.87 91.68 188.67C93.08 187.48 94.35 186.27 95.4 184.48C96.46 182.69 97.27 180.52 98.01 177.96C98.76 175.4 99.36 172.29 99.88 169.11C100.39 165.92 100.82 162.27 101.09 158.86C101.35 155.44 101.43 151.72 101.46 148.61C101.49 145.5 101.51 142.9 101.27 140.22C101.04 137.55 100.27 133.86 100.06 132.58"/><path d="M100.06 132.58C99.68 133 98.51 133.52 97.73 135.1C96.96 136.68 96.34 139.06 95.4 142.09C94.47 145.12 93.23 149.7 92.14 153.27C91.06 156.84 89.81 160.57 88.88 163.52C87.95 166.47 87.25 169.14 86.55 170.97C85.85 172.8 85.2 174.2 84.69 174.51C84.18 174.82 83.53 174.2 83.48 172.83C83.43 171.47 83.9 169.26 84.41 166.31C84.92 163.36 85.89 158.86 86.55 155.13C87.22 151.4 87.9 147.37 88.42 143.95C88.93 140.53 89.4 137.12 89.63 134.63C89.86 132.15 89.78 129.98 89.81 129.04"/><path d="M78.17 229.81C77.5 232.11 75.33 234.71 73.98 237.27C72.62 239.83 70.87 243.09 70.06 245.19C69.25 247.28 69.02 248.22 69.13 249.85C69.24 251.48 69.91 253.11 70.71 254.97C71.52 256.83 72.81 259.13 73.98 261.03C75.14 262.92 76.46 265.14 77.7 266.34C78.94 267.53 79.88 268.2 81.43 268.2C82.98 268.2 85.16 267.11 87.02 266.34C88.88 265.56 91.09 264.66 92.61 263.54C94.13 262.42 95.42 261.52 96.15 259.63C96.88 257.73 96.83 254.82 96.99 252.18C97.14 249.54 96.91 246.59 97.08 243.79C97.25 241 97.52 238.2 98.01 235.4C98.51 232.61 99.49 229.38 100.06 227.02C100.64 224.66 101.37 222.95 101.46 221.24C101.55 219.53 101.29 218.11 100.62 216.77C99.95 215.44 98.87 214.12 97.45 213.23C96.04 212.35 93.88 211.71 92.14 211.46C90.4 211.21 88.62 211.3 87.02 211.74C85.42 212.17 83.81 213.01 82.55 214.07C81.29 215.12 80.23 216.51 79.47 218.08C78.71 219.64 78.2 221.52 77.98 223.48C77.76 225.44 78.84 227.52 78.17 229.81Z"/><path d="M81.43 217.24C81.2 218.25 80.42 221.2 80.03 223.29C79.64 225.39 79.26 228.73 79.1 229.81"/><path d="M81.62 217.24C82.02 218.09 83.48 220.58 84.04 222.36C84.6 224.15 84.94 225.78 84.97 227.95C85 230.13 84.61 232.92 84.22 235.4C83.84 237.89 83.11 240.53 82.64 242.86C82.17 245.19 81.55 247.75 81.43 249.38C81.31 251.01 81.58 252.05 81.9 252.64C82.21 253.23 82.83 253.46 83.29 252.92C83.76 252.38 84.07 251.29 84.69 249.38C85.31 247.47 86.09 244.33 87.02 241.46C87.95 238.59 89.12 235.17 90.28 232.14C91.45 229.12 92.84 225.54 94.01 223.29C95.17 221.04 96.18 219.49 97.27 218.63C98.36 217.78 99.99 218.25 100.53 218.17"/><path d="M74.17 304.69C74.43 303.68 74.98 300.65 75.75 298.63C76.53 296.62 77.46 294.16 78.83 292.58C80.19 290.99 82.01 289.95 83.95 289.13C85.89 288.31 88.45 287.64 90.47 287.64C92.49 287.64 94.36 288.15 96.06 289.13C97.77 290.11 99.59 291.77 100.72 293.51C101.86 295.25 102.55 297.31 102.86 299.57C103.18 301.82 102.97 304.53 102.59 307.02C102.2 309.5 101.39 312.14 100.54 314.47C99.68 316.8 97.97 319.91 97.46 321"/><path d="M80.69 295.37C80.38 296.38 79.68 299.33 78.83 301.43C77.97 303.53 76.96 305.7 75.57 307.95C74.17 310.2 71.92 312.76 70.44 314.94C68.97 317.11 67.52 319.05 66.71 321C65.91 322.94 65.52 324.49 65.6 326.59C65.67 328.68 66.37 331.17 67.18 333.57C67.99 335.98 69.28 338.96 70.44 341.03C71.61 343.09 73 345.03 74.17 345.96C75.33 346.9 75.95 346.93 77.43 346.62C78.9 346.31 81 345.11 83.02 344.1C85.04 343.09 87.65 341.85 89.54 340.56C91.44 339.27 93.22 338 94.39 336.37C95.55 334.74 96.25 332.72 96.53 330.78C96.81 328.84 96.17 326.82 96.06 324.72C95.95 322.63 95.69 320.53 95.88 318.2C96.06 315.87 96.76 313.15 97.18 310.75C97.6 308.34 98.19 304.92 98.39 303.76"/><path d="M98.39 303.76C97.85 304.22 96.53 305.62 95.13 306.55C93.73 307.49 91.4 308.11 90.01 309.35C88.61 310.59 87.76 312.56 86.75 314.01C85.74 315.45 84.42 317.35 83.95 318.01"/><path d="M83.95 318.01C83.72 317.11 82.94 314.91 82.55 312.61C82.17 310.31 81.93 307.1 81.62 304.22C81.31 301.35 80.85 296.85 80.69 295.37"/><path d="M72.77 382.24C73.47 381.51 75.33 378.99 76.96 377.86C78.59 376.72 80.69 375.68 82.55 375.44C84.42 375.19 86.36 375.62 88.14 376.37C89.93 377.11 91.86 378.46 93.27 379.91C94.68 381.35 95.91 383.01 96.62 385.03C97.34 387.05 97.54 389.61 97.55 392.02C97.57 394.43 97.12 397.22 96.72 399.47C96.31 401.72 95.4 404.52 95.13 405.53"/><path d="M76.03 381.77C75.72 382.62 75.18 385.34 74.17 386.9C73.16 388.45 71.17 389.53 69.98 391.09C68.78 392.64 67.65 394.43 66.99 396.21C66.34 398 65.88 400.02 66.06 401.8C66.25 403.59 66.99 405.22 68.11 406.93C69.23 408.63 71.06 410.58 72.77 412.05C74.48 413.53 76.65 415.11 78.36 415.78C80.07 416.45 81.54 416.52 83.02 416.06C84.49 415.59 85.89 414.35 87.21 412.98C88.53 411.62 89.87 409.8 90.94 407.86C92.01 405.92 92.96 403.67 93.64 401.34C94.32 399.01 94.76 396.52 95.04 393.88C95.32 391.24 95.27 386.9 95.32 385.5"/><path d="M95.32 385.5C94.9 386.09 94 388.11 92.8 389.04C91.61 389.97 89.77 390.87 88.14 391.09C86.51 391.31 84.57 390.96 83.02 390.34C81.47 389.72 79.88 388.4 78.83 387.36C77.77 386.32 77.15 385.03 76.68 384.1C76.22 383.17 76.14 382.16 76.03 381.77"/></g>
<g transform="translate(120.65 1328) scale(1.04 1)" clip-path="url(#c1t)"><text font-size="22.9" fill="#1c1c1c" stroke="#1c1c1c" stroke-width="0.3">1</text></g>
<text transform="translate(133.06 1234.9) scale(1.04 1)" font-size="22.9" text-anchor="end" fill="#1c1c1c" stroke="#1c1c1c" stroke-width="0.3">2</text>
<text transform="translate(133.15 1144.65) scale(1.04 1)" font-size="22.9" text-anchor="end" fill="#1c1c1c" stroke="#1c1c1c" stroke-width="0.3">3</text>
<text transform="translate(132.59 1052.6) scale(1.04 1)" font-size="22.9" text-anchor="end" fill="#1c1c1c" stroke="#1c1c1c" stroke-width="0.3">4</text>
<text transform="translate(132.53 961.6) scale(1.04 1)" font-size="22.9" text-anchor="end" fill="#1c1c1c" stroke="#1c1c1c" stroke-width="0.3">5</text>
<clipPath id="c1a"><rect x="-2" y="-22.8" width="42.67" height="30.4"/><rect x="41.17" y="-22.8" width="10.64" height="20.33"/><rect x="45.44" y="-3.8" width="2.97" height="5.7"/><rect x="51.74" y="-22.8" width="19" height="30.4"/></clipPath>
<g transform="translate(303.01 941) scale(1.04 1)" clip-path="url(#c1a)"><text font-size="19" font-weight="bold" stroke="#000" stroke-width="0.3" fill="#000">Age 12</text></g>
<text x="230.75" y="1354" font-size="19.6" font-weight="bold" stroke="#000" stroke-width="0.35" textLength="44.4" lengthAdjust="spacingAndGlyphs" fill="#000">Cleft</text>
<text x="415.25" y="1354" font-size="19.6" font-weight="bold" stroke="#000" stroke-width="0.35" textLength="84.9" lengthAdjust="spacingAndGlyphs" fill="#000">Non-cleft</text>
<text transform="translate(41.4 1251.1) rotate(-90)" font-size="20.4" font-weight="bold" stroke="#000" stroke-width="0.3" textLength="211.7" lengthAdjust="spacingAndGlyphs" fill="#000">Developmental stages</text>
<text x="496.13 502.88" y="1297.7" font-size="19.05" font-weight="bold" font-style="italic" stroke="#000" stroke-width="0.45">(p</text><text transform="translate(519.81 1299.57) scale(1.14 1)" font-size="19.6" font-weight="bold" stroke="#000" stroke-width="0.45">&gt;</text><g transform="translate(0 1297.5) scale(1.28 1)"><text x="419.36 428.64 432.64 442.25" y="0" font-size="16.1" font-weight="bold" stroke="#000" stroke-width="0.45">0.05</text></g><text x="576.69" y="1297.7" font-size="19.05" font-weight="bold" font-style="italic" stroke="#000" stroke-width="0.45">)</text>
</g>
</svg>
</body>
</html>
